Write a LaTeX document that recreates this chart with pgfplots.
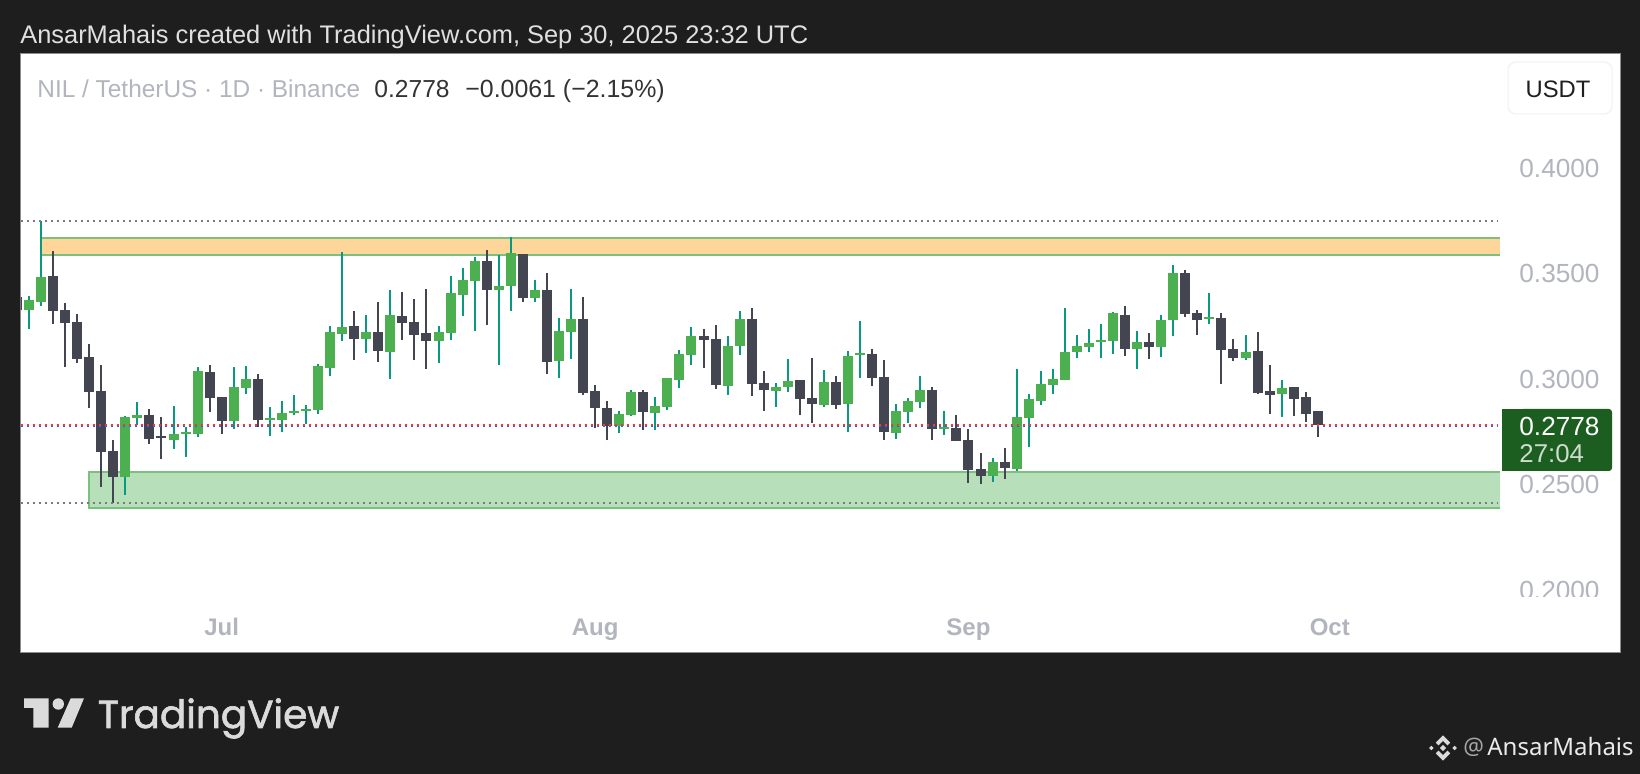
\documentclass[border=0pt]{standalone}
\usepackage{fontspec}
\usepackage{pgfplots}
\usepackage{pgfplotstable}
\pgfplotsset{compat=1.18}
\setmainfont{Liberation Sans}
\newfontfamily\popfont[FakeBold=1.6]{Poppins}
\newfontfamily\notofont{Noto Sans}
\definecolor{bgdark}{HTML}{1E1E1E}
\definecolor{upbody}{HTML}{4CAF50}
\definecolor{upwick}{HTML}{089981}
\definecolor{downc}{HTML}{434651}
\definecolor{axisgrey}{HTML}{B2B5BE}
\definecolor{bandborder}{HTML}{7BC17E}
\definecolor{orangeband}{HTML}{FFD699}
\definecolor{greenband}{HTML}{B7DFBA}
\definecolor{dotgrey}{HTML}{787B86}
\definecolor{tagdark}{HTML}{1B5E20}
\definecolor{redl}{HTML}{F23645}
\definecolor{bluel}{HTML}{2962FF}
\pgfplotstableread{
i H T B L
0 .3391 .3372 .3324 .3234
1 .3746 .3480 .3362 .3343
8 .2822 .2817 .2533 .2448
9 .2888 .2827 .2812 .2779
12 .2869 .2737 .2708 .2666
13 .2770 .2746 .2737 .2628
14 .3054 .3035 .2737 .2723
17 .3054 .2959 .2798 .2760
18 .3059 .2997 .2955 .2926
20 .2865 .2812 .2803 .2727
21 .2893 .2836 .2803 .2746
22 .2922 .2846 .2836 .2827
23 .2874 .2855 .2846 .2784
24 .3068 .3059 .2850 .2831
25 .3248 .3220 .3050 .3012
26 .3599 .3244 .3211 .3177
28 .3301 .3220 .3187 .3120
30 .3419 .3301 .3125 .2997
34 .3248 .3220 .3177 .3073
35 .3485 .3405 .3215 .3182
36 .3523 .3466 .3395 .3296
37 .3575 .3556 .3462 .3225
39 .3585 .3438 .3419 .3064
40 .3670 .3594 .3438 .3319
42 .3466 .3419 .3381 .3362
44 .3286 .3225 .3083 .3002
45 .3424 .3282 .3220 .3092
49 .2846 .2831 .2775 .2741
50 .2945 .2936 .2827 .2822
52 .2912 .2869 .2836 .2756
53 .3002 .3002 .2865 .2850
54 .3135 .3116 .2993 .2955
55 .3244 .3201 .3111 .3064
58 .3201 .3154 .2964 .2922
59 .3319 .3282 .3154 .3111
62 .2978 .2959 .2941 .2865
63 .3092 .2988 .2959 .2936
66 .3040 .2983 .2874 .2865
68 .3130 .3106 .2879 .2746
69 .3272 .3120 .3111 .3002
72 .2879 .2846 .2741 .2713
73 .2907 .2893 .2841 .2789
74 .3012 .2945 .2888 .2860
76 .2846 .2770 .2760 .2732
80 .2623 .2604 .2538 .2510
82 .3045 .2817 .2571 .2562
83 .2926 .2903 .2812 .2675
84 .3035 .2974 .2893 .2874
85 .3045 .2997 .2969 .2926
86 .3334 .3125 .2993 .2993
87 .3206 .3154 .3125 .3097
88 .3234 .3168 .3149 .3125
89 .3258 .3182 .3173 .3097
90 .3315 .3310 .3177 .3116
92 .3225 .3173 .3139 .3045
94 .3301 .3277 .3149 .3102
95 .3537 .3499 .3277 .3201
98 .3405 .3291 .3282 .3258
101 .3206 .3125 .3097 .3087
104 .2993 .2955 .2926 .2817
}\upcandles
\pgfplotstableread{
i H T B L
-1 .3395 .3386 .3324 .3310
2 .3604 .3485 .3319 .3258
3 .3357 .3324 .3263 .3054
4 .3305 .3267 .3092 .3073
5 .3163 .3102 .2936 .2860
6 .3064 .2941 .2652 .2486
7 .2708 .2656 .2533 .2410
10 .2855 .2827 .2713 .2690
11 .2817 .2727 .2718 .2618
15 .3064 .3031 .2907 .2841
16 .2912 .2912 .2798 .2737
19 .3021 .2997 .2803 .2770
27 .3319 .3248 .3187 .3087
29 .3362 .3220 .3130 .3078
31 .3409 .3296 .3263 .3182
32 .3376 .3267 .3206 .3087
33 .3424 .3215 .3177 .3045
38 .3608 .3556 .3419 .3253
41 .3589 .3589 .3381 .3362
43 .3499 .3419 .3078 .3021
46 .3386 .3282 .2931 .2922
47 .2969 .2941 .2860 .2765
48 .2893 .2860 .2775 .2708
51 .2945 .2936 .2841 .2756
56 .3234 .3201 .3182 .3050
57 .3253 .3187 .2969 .2950
60 .3334 .3282 .2974 .2917
61 .3035 .2978 .2945 .2846
64 .2993 .2993 .2903 .2827
65 .3097 .2907 .2879 .2789
67 .3012 .2983 .2874 .2855
70 .3139 .3116 .3002 .2964
71 .3087 .3007 .2746 .2708
75 .2959 .2945 .2760 .2708
77 .2827 .2765 .2704 .2704
78 .2760 .2708 .2566 .2505
79 .2647 .2571 .2538 .2500
81 .2671 .2604 .2576 .2524
91 .3343 .3301 .3139 .3106
93 .3215 .3173 .3149 .3092
96 .3514 .3499 .3305 .3291
97 .3324 .3310 .3277 .3206
99 .3310 .3286 .3135 .2974
100 .3187 .3139 .3097 .3083
102 .3220 .3130 .2931 .2926
103 .3064 .2941 .2922 .2831
105 .2959 .2959 .2903 .2822
106 .2936 .2912 .2831 .2794
107 .2846 .2846 .2778 .2723
}\downcandles
\begin{document}
\begin{tikzpicture}
\path[use as bounding box] (0,0) rectangle (820pt,-387pt);
\begin{scope}[x=0.5pt,y=-0.5pt]
\fill[bgdark] (0,0) rectangle (1640,774);
\filldraw[fill=white,draw=white!55!black,line width=0.5pt] (20.5,54) rectangle (1620,653);
\end{scope}
\begin{axis}[
  at={(10.25pt,-326.5pt)},anchor=south west,
  scale only axis,width=739.75pt,height=299.5pt,
  xmin=-0.706,xmax=122.13,ymin=0.169943,ymax=0.453643,
  axis line style={draw=none},
  major tick length=0pt,
  tick style={draw=none},
  ytick={0.2,0.25,0.3,0.35,0.4},
  yticklabel pos=right,
  xtick={16,47,78,108},
  xticklabels={Jul,Aug,Sep,Oct},
  /pgf/number format/assume math mode=true,
  yticklabel style={/pgf/number format/.cd,fixed,fixed zerofill,precision=4,assume math mode=true,
    /tikz/.cd,anchor=west,inner sep=0pt,xshift=9.5pt,yshift=-0.4pt,text=axisgrey,font=\fontsize{13.1}{14}\selectfont},
  xticklabel style={anchor=base,inner sep=0pt,yshift=8.8pt,text=axisgrey,font=\fontsize{12}{14}\selectfont\bfseries},
]
% zones
\addplot[fill=orangeband,draw=none,forget plot] coordinates {(1,0.3585)(122.13,0.3585)(122.13,0.3665)(1,0.3665)} -- cycle;
\addplot[bandborder,line width=1pt,forget plot] coordinates {(1,0.3665)(122.13,0.3665)};
\addplot[bandborder,line width=1pt,forget plot] coordinates {(1,0.3585)(122.13,0.3585)};
\addplot[fill=greenband,draw=none,forget plot] coordinates {(5,0.2386)(122.13,0.2386)(122.13,0.2557)(5,0.2557)} -- cycle;
\addplot[bandborder,line width=1pt,forget plot] coordinates {(122.13,0.2557)(5,0.2557)(5,0.2386)(122.13,0.2386)};
% wicks
\addplot[draw=none,mark=none,forget plot,error bars/.cd,y dir=plus,y explicit,error mark=none,
  error bar style={draw=upwick,line width=1pt}]
  table[x=i,y=L,y error plus expr=\thisrow{H}-\thisrow{L}] {\upcandles};
\addplot[draw=none,mark=none,forget plot,error bars/.cd,y dir=plus,y explicit,error mark=none,
  error bar style={draw=downc,line width=1pt}]
  table[x=i,y=L,y error plus expr=\thisrow{H}-\thisrow{L}] {\downcandles};
% bodies
\addplot[draw=none,mark=none,forget plot,error bars/.cd,y dir=plus,y explicit,error mark=none,
  error bar style={draw=upbody,line width=5pt}]
  table[x=i,y=B,y error plus expr=\thisrow{T}-\thisrow{B}] {\upcandles};
\addplot[draw=none,mark=none,forget plot,error bars/.cd,y dir=plus,y explicit,error mark=none,
  error bar style={draw=downc,line width=5pt}]
  table[x=i,y=B,y error plus expr=\thisrow{T}-\thisrow{B}] {\downcandles};
% horizontal dotted levels
\addplot[dotgrey,line width=1pt,dash pattern=on 1pt off 2pt,forget plot] coordinates {(-0.7,0.3746)(122,0.3746)};
\addplot[dotgrey,line width=1pt,dash pattern=on 1pt off 2pt,forget plot] coordinates {(-0.7,0.2410)(122,0.2410)};
\addplot[bluel,line width=0.75pt,dash pattern=on 1pt off 2pt,forget plot] coordinates {(-0.7,0.27745)(122,0.27745)};
\addplot[redl,line width=1pt,dash pattern=on 1pt off 2pt,forget plot] coordinates {(-0.7,0.2780)(122,0.2780)};
\end{axis}
\begin{scope}[x=0.5pt,y=-0.5pt]
% clipped 0.2000 label
\fill[white] (1512,597) rectangle (1610,610);
% USDT button
\filldraw[fill=white,draw=black!6,line width=0.5pt,rounded corners=4pt] (1508,62) rectangle (1612,114);
\node[anchor=center,inner sep=0pt,text=black!88,font=\fontsize{11.9}{14}\selectfont] at (1558,89) {USDT};
% price tag
\fill[tagdark,rounded corners=1.5pt] (1520,409) rectangle (1612,471);
\fill[tagdark] (1502,409) rectangle (1540,471);
\node[anchor=west,inner sep=0pt,text=white,font=\fontsize{13.1}{14}\selectfont] at (1519,426.5) {0.2778};
\node[anchor=west,inner sep=0pt,text=white!78!tagdark,font=\fontsize{12.9}{14}\selectfont] at (1519,454) {27:04};
% header
\node[anchor=base west,inner sep=0pt,text=white!88!black,font=\fontsize{12.7}{14}\selectfont] at (20,44) {AnsarMahais created with TradingView.com, Sep 30, 2025 23:32 UTC};
\node[anchor=base west,inner sep=0pt,text=axisgrey,font=\fontsize{12.2}{14}\selectfont] at (37,98) {NIL / TetherUS · 1D · Binance};
\node[anchor=base west,inner sep=0pt,text=black!80,font=\fontsize{12.3}{14}\selectfont] at (374,98) {0.2778};
\node[anchor=base west,inner sep=0pt,text=black!80,font=\fontsize{12.45}{14}\selectfont] at (465,98) {−0.0061 (−2.15\%)};
% TradingView logo
\fill[white!86!black] (24,698.3) -- (48.7,698.3) -- (48.7,727.7) -- (33.3,727.7) -- (33.3,708) -- (24,708) -- cycle;
\fill[white!86!black] (58.3,704) circle (5.7);
\fill[white!86!black] (70.7,698.3) -- (84,698.3) -- (71.7,727.7) -- (57.7,727.7) -- cycle;
\node[anchor=base west,inner sep=0pt,text=white!86!black,font=\fontsize{19.5}{24}\selectfont\popfont] at (97.5,728) {TradingView};
% Binance mark
\begin{scope}[shift={(1443,748)},scale=0.9,white!86!black]
\fill (0,-14) -- (8,-6) -- (5,-3) -- (0,-8) -- (-5,-3) -- (-8,-6) -- cycle;
\fill (0,14) -- (8,6) -- (5,3) -- (0,8) -- (-5,3) -- (-8,6) -- cycle;
\fill (0,-3.5) -- (3.5,0) -- (0,3.5) -- (-3.5,0) -- cycle;
\fill (-13,-2.5) -- (-10.5,0) -- (-13,2.5) -- (-15.5,0) -- cycle;
\fill (13,-2.5) -- (15.5,0) -- (13,2.5) -- (10.5,0) -- cycle;
\end{scope}
\node[anchor=west,inner sep=0pt,text=white!65!black,font=\fontsize{11.5}{14}\selectfont\notofont] at (1463,747) {@};
\node[anchor=west,inner sep=0pt,text=white!92!black,font=\fontsize{12}{14}\selectfont\notofont] at (1487,747) {AnsarMahais};
\end{scope}
\end{tikzpicture}
\end{document}
